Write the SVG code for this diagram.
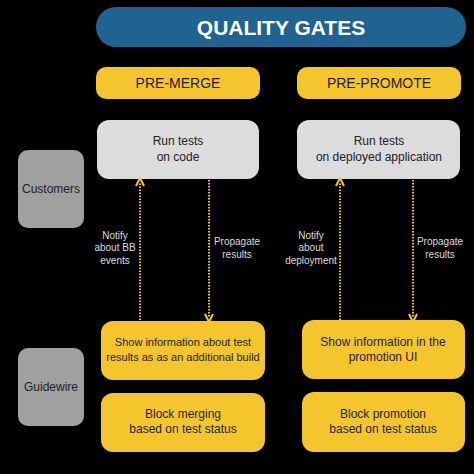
<svg xmlns="http://www.w3.org/2000/svg" width="474" height="474" viewBox="0 0 474 474">
<defs>
<style>
text{font-family:"Liberation Sans","Open Sans",sans-serif;text-anchor:middle}
.title{fill:#fff;font-weight:bold;font-size:21px}
.hdr{fill:#f5c52d}
.hdrt{fill:#1a1a1a;font-size:14px}
.grey{fill:#dcdcdc}
.side{fill:#a0a0a0}
.yel{fill:#f5c52d}
.nt{fill:#222;font-size:12px}
.lbl{fill:#ddd;font-size:10px}
.con{stroke:#f5c52d;stroke-width:2;stroke-dasharray:1.5 1.5;fill:none}
</style>
<marker id="ah" viewBox="0 0 10 10" refX="5" refY="5" markerWidth="5" markerHeight="5" orient="auto-start-reverse">
<path d="M1,1 L9,5 L1,9" fill="none" stroke="#f5c52d" stroke-width="2"/>
</marker>
</defs>
<rect width="474" height="474" fill="#000"/>
<g id="title">
<rect x="96" y="7" width="370" height="40" rx="20" fill="#1f6391"/>
<text class="title" x="281" y="35">QUALITY GATES</text>
</g>
<g id="pre-merge">
<rect class="hdr" x="96" y="67" width="164" height="32" rx="10"/>
<text class="hdrt" x="178" y="88">PRE-MERGE</text>
</g>
<g id="pre-promote">
<rect class="hdr" x="297" y="67" width="164" height="32" rx="10"/>
<text class="hdrt" x="379" y="88">PRE-PROMOTE</text>
</g>
<g id="customers">
<rect class="side" x="18" y="150" width="66" height="78" rx="10"/>
<text class="nt" x="51" y="193">Customers</text>
</g>
<g id="guidewire">
<rect class="side" x="18" y="348" width="66" height="78" rx="10"/>
<text class="nt" x="51" y="391">Guidewire</text>
</g>
<g id="run-code">
<rect class="grey" x="97" y="120" width="162" height="59" rx="12"/>
<text class="nt" x="178" y="145">Run tests</text>
<text class="nt" x="178" y="161">on code</text>
</g>
<g id="run-deployed">
<rect class="grey" x="297" y="120" width="163" height="59" rx="12"/>
<text class="nt" x="379" y="145">Run tests</text>
<text class="nt" x="379" y="161">on deployed application</text>
</g>
<g id="show-build">
<rect class="yel" x="101" y="321" width="164" height="59" rx="12"/>
<text class="nt" x="183" y="346" style="font-size:11px">Show information about test</text>
<text class="nt" x="183" y="361" style="font-size:11px">results as as an additional build</text>
</g>
<g id="block-merging">
<rect class="yel" x="101" y="393" width="164" height="59" rx="12"/>
<text class="nt" x="183" y="418">Block merging</text>
<text class="nt" x="183" y="433">based on test status</text>
</g>
<g id="show-promotion">
<rect class="yel" x="302" y="320" width="163" height="59" rx="12"/>
<text class="nt" x="383" y="346">Show information in the</text>
<text class="nt" x="383" y="361">promotion UI</text>
</g>
<g id="block-promotion">
<rect class="yel" x="302" y="392" width="163" height="60" rx="12"/>
<text class="nt" x="383" y="418">Block promotion</text>
<text class="nt" x="383" y="433">based on test status</text>
</g>
<g id="connectors">
<line class="con" x1="140" y1="320" x2="140" y2="182" marker-end="url(#ah)"/>
<line class="con" x1="209" y1="180" x2="209" y2="318" marker-end="url(#ah)"/>
<line class="con" x1="340" y1="320" x2="340" y2="182" marker-end="url(#ah)"/>
<line class="con" x1="413" y1="180" x2="413" y2="318" marker-end="url(#ah)"/>
<text class="lbl" x="115" y="239">Notify</text>
<text class="lbl" x="115" y="251">about BB</text>
<text class="lbl" x="115" y="264">events</text>
<text class="lbl" x="237" y="245">Propagate</text>
<text class="lbl" x="237" y="258">results</text>
<text class="lbl" x="311" y="239">Notify</text>
<text class="lbl" x="311" y="251">about</text>
<text class="lbl" x="311" y="264">deployment</text>
<text class="lbl" x="440" y="245">Propagate</text>
<text class="lbl" x="440" y="258">results</text>
</g>
</svg>
